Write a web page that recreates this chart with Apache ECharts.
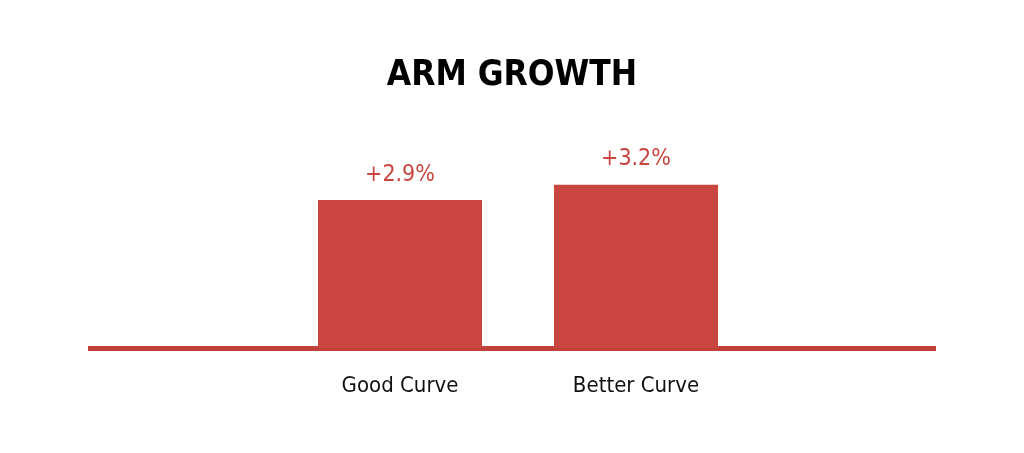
<!DOCTYPE html>
<html>
<head>
<meta charset="utf-8">
<script src="https://cdn.jsdelivr.net/npm/echarts@6/dist/echarts.min.js"></script>
<style>
  html, body { margin: 0; padding: 0; background: #fff; }
  #chart { width: 1024px; height: 453px; }
</style>
</head>
<body>
<div id="chart"></div>
<script>
// arm growth data
var categories = ['Good Curve', 'Better Curve'];
var growth = [2.9, 3.2];

var narrow = "'Liberation Sans Narrow', 'DejaVu Sans Condensed', sans-serif";
var red = '#c9453f';

var chart = echarts.init(document.getElementById('chart'));
chart.setOption({
    backgroundColor: '#fff',
    animation: false,
    title: {
        text: 'ARM GROWTH',
        left: 'center',
        top: 53,
        textStyle: {
            fontFamily: narrow,
            fontWeight: 'bold',
            fontSize: 35,
            color: '#000'
        }
    },
    grid: [
        {left: 282, width: 472, top: 144, bottom: 105},
        // only used for the long baseline
        {left: 88, right: 88, top: 144, bottom: 105}
    ],
    xAxis: [
        {
            type: 'category',
            gridIndex: 0,
            data: categories,
            axisLine: {show: false},
            axisTick: {show: false},
            axisLabel: {
                margin: 27,
                fontFamily: narrow,
                fontSize: 22,
                color: '#111'
            }
        },
        {
            type: 'value',
            gridIndex: 1,
            min: 0,
            max: 1,
            axisLine: {show: true, lineStyle: {color: '#c0413a', width: 5, cap: 'butt'}},
            axisTick: {show: false},
            axisLabel: {show: false},
            splitLine: {show: false}
        }
    ],
    yAxis: [
        {type: 'value', gridIndex: 0, min: 0, max: 4, show: false},
        {type: 'value', gridIndex: 1, min: 0, max: 1, show: false}
    ],
    series: [
        {
            type: 'bar',
            xAxisIndex: 0,
            yAxisIndex: 0,
            data: growth,
            barWidth: 164,
            itemStyle: {color: red},
            label: {
                show: true,
                position: 'top',
                distance: 14,
                formatter: function (p) { return '+' + p.value.toFixed(1) + '%'; },
                fontFamily: narrow,
                fontSize: 23,
                color: red
            }
        }
    ]
});
</script>
</body>
</html>
